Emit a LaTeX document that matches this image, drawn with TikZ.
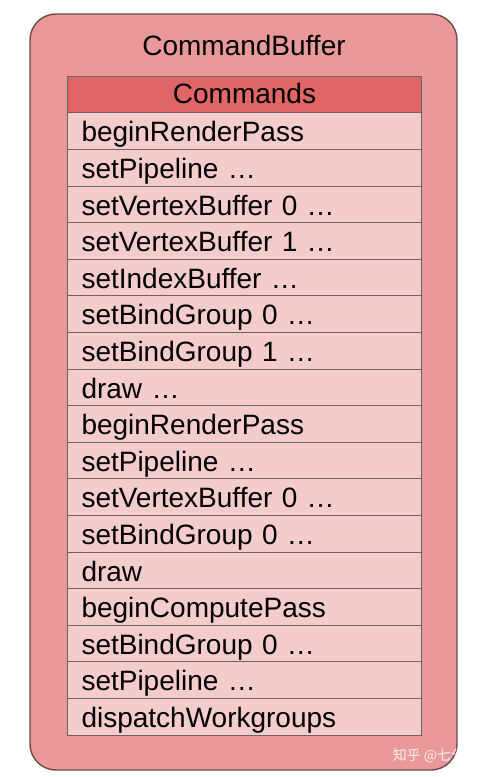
\documentclass[tikz,border=0pt]{standalone}
\usepackage{fontspec}
\setmainfont{Liberation Sans}
\newfontfamily\cjkfont{Noto Sans CJK SC}
\definecolor{outerfill}{HTML}{EA9999}
\definecolor{outerline}{HTML}{6E4A4A}
\definecolor{headfill}{HTML}{E06666}
\definecolor{rowfill}{HTML}{F4CCCC}
\definecolor{rowline}{HTML}{666666}
\begin{document}
\begin{tikzpicture}[x=1pt,y=-1pt,
  outerbox/.style={draw=outerline,fill=outerfill,line width=1.4pt,rounded corners=26pt},
  headbox/.style={draw=rowline,fill=headfill,line width=1pt,minimum width=354pt,text height=27pt,text depth=9.6pt,inner sep=0pt,anchor=north west,font=\fontsize{28}{30}\selectfont},
  rowbox/.style={draw=rowline,fill=rowfill,line width=1pt,minimum width=354pt,text height=29pt,text depth=7.6pt,inner xsep=14pt,inner ysep=0pt,anchor=north west,text width=326pt,align=left,font=\fontsize{28}{30}\selectfont},
  titletext/.style={font=\fontsize{28}{30}\selectfont,anchor=base},
  marktext/.style={font=\cjkfont\fontsize{14}{16}\selectfont,text=white,opacity=0.85}]
\useasboundingbox (0,0) rectangle (480,777);
\fill[white] (0,0) rectangle (480,777);
\draw[outerbox] (30,14) rectangle (457,770);
\node[titletext] (title) at (244,55) {CommandBuffer};
\node[headbox] (head) at (67,76) {Commands};
\foreach [count=\i] \t in {beginRenderPass,setPipeline …,setVertexBuffer 0 …,setVertexBuffer 1 …,setIndexBuffer …,setBindGroup 0 …,setBindGroup 1 …,draw …,beginRenderPass,setPipeline …,setVertexBuffer 0 …,setBindGroup 0 …,draw,beginComputePass,setBindGroup 0 …,setPipeline …,dispatchWorkgroups}{
  \node[rowbox] (r\i) at (67,{112.4+(\i-1)*36.6}) {\t};
}
\node[marktext] (mark) at (429,756) {知乎 @七分};
\end{tikzpicture}
\end{document}
